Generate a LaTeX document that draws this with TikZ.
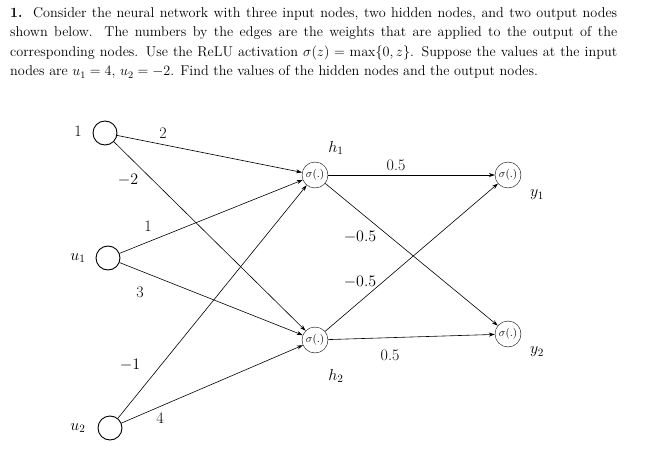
\RequirePackage{fix-cm}
\documentclass[tikz,border=0pt]{standalone}
\usetikzlibrary{arrows.meta}
\begin{document}
\begin{tikzpicture}[x=1pt,y=-1pt,
  inp/.style={circle,draw,line width=0.9pt,minimum size=24pt,inner sep=0pt},
  hid/.style={circle,draw,minimum size=26pt,inner sep=0pt,font=\fontsize{11}{11}\selectfont},
  e/.style={draw,-{Stealth[length=6pt,width=4pt]},line width=0.6pt},
  lab/.style={font=\fontsize{16}{16}\selectfont}]
\useasboundingbox (0,0) rectangle (646,452);
\node[anchor=north west,inner sep=0pt,text width=607pt,align=justify,font=\fontsize{14.2}{19.6}\selectfont] (txt) at (10,7)
 {\hangindent=23pt\hangafter=1\makebox[23pt][l]{\textbf{1.}}Consider the neural network with three input nodes, two hidden nodes, and two output nodes shown below. The numbers by the edges are the weights that are applied to the output of the corresponding nodes. Use the ReLU activation $\sigma(z)=\max\{0,z\}$. Suppose the values at the input nodes are $u_1=4$, $u_2=-2$. Find the values of the hidden nodes and the output nodes.};
\node[inp] (i1) at (105,133) {};
\node[inp] (i2) at (108,258) {};
\node[inp] (i3) at (110,428) {};
\node[hid] (h1) at (315,175) {$\sigma(.)$};
\node[hid] (h2) at (315,340) {$\sigma(.)$};
\node[hid] (y1) at (508,175) {$\sigma(.)$};
\node[hid] (y2) at (508,334) {$\sigma(.)$};
\node[lab] (l1) at (78,131) {1};
\node[lab] (lu1) at (78,258) {$u_1$};
\node[lab] (lu2) at (78,428) {$u_2$};
\node[lab] (lh1) at (336,148) {$h_1$};
\node[lab] (lh2) at (336,376) {$h_2$};
\node[lab] (ly1) at (537,195) {$y_1$};
\node[lab] (ly2) at (537,352) {$y_2$};
\draw[e] (i1) -- (h1);
\draw[e] (i1) -- (h2);
\draw[e] (i2) -- (h1);
\draw[e] (i2) -- (h2);
\draw[e] (i3) -- (h1);
\draw[e] (i3) -- (h2);
\draw[e] (h1) -- (y1);
\draw[e] (h1) -- (y2);
\draw[e] (h2) -- (y1);
\draw[e] (h2) -- (y2);
\node[lab] (w1) at (163,133) {2};
\node[lab] (w2) at (128,180) {$-2$};
\node[lab] (w3) at (148,226) {1};
\node[lab] (w4) at (140,292) {3};
\node[lab] (w5) at (130,365) {$-1$};
\node[lab] (w6) at (160,418) {4};
\node[lab] (w7) at (396,165) {0.5};
\node[lab] (w8) at (360,237) {$-0.5$};
\node[lab] (w9) at (360,282) {$-0.5$};
\node[lab] (w10) at (390,355) {0.5};
\end{tikzpicture}
\end{document}
